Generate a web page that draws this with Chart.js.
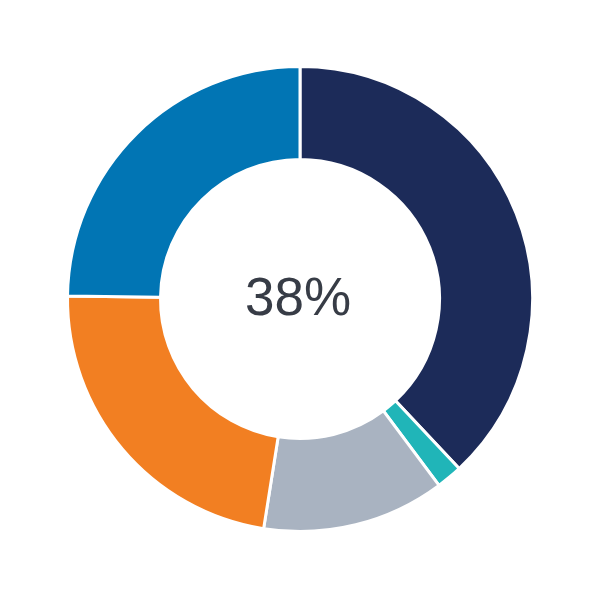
<!DOCTYPE html>
<html><head><meta charset="utf-8">
<script src="https://cdn.jsdelivr.net/npm/chart.js@4"></script>
<style>html,body{margin:0;padding:0;background:#fff}#wrap{position:relative;width:600px;height:600px}</style>
</head><body>
<div id="wrap"><canvas id="c" width="600" height="600"></canvas></div>
<script>
const categories = ["A", "B", "C", "D", "E"];
const values = [38, 1.8, 12.7, 22.7, 24.8];
const colors = ["#1c2b59", "#20b5b8", "#a9b3c1", "#f27f22", "#0175b4"];
const centerLabel = "38%";

const centerText = {
  id: 'centerText',
  afterDraw(chart) {
    const meta = chart.getDatasetMeta(0);
    const arc = meta.data[0];
    const ctx = chart.ctx;
    ctx.save();
    ctx.font = '53px "Liberation Sans", Arial, sans-serif';
    ctx.fillStyle = '#373c46';
    ctx.textAlign = 'center';
    ctx.textBaseline = 'middle';
    ctx.fillText(centerLabel, arc.x - 2, arc.y + 1);
    ctx.restore();
  }
};

new Chart(document.getElementById('c'), {
  type: 'doughnut',
  data: { labels: categories, datasets: [{ data: values, backgroundColor: colors, borderColor: '#ffffff', borderWidth: 3 }] },
  options: {
    responsive: false,
    animation: false,
    cutout: '60%',
    layout: { padding: { left: 66, right: 66, top: 65, bottom: 67 } },
    plugins: { legend: { display: false }, tooltip: { enabled: false } }
  },
  plugins: [centerText]
});
</script>
</body></html>
